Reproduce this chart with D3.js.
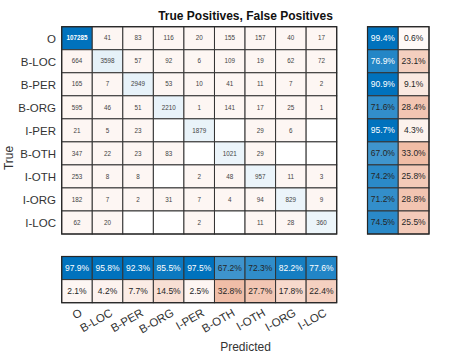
<!DOCTYPE html>
<html><head><meta charset="utf-8">
<script src="https://cdn.jsdelivr.net/npm/d3@7"></script>
<style>body{margin:0;background:#fff}svg{display:block}</style>
</head><body><svg id="c" width="474" height="355"></svg>
<script>
const classes = ["O","B-LOC","B-PER","B-ORG","I-PER","B-OTH","I-OTH","I-ORG","I-LOC"];
const rowO    = [107285, 41, 83, 116, 20, 155, 157, 40, 17];
const rowBLOC = [664, 3598, 57, 92, 6, 109, 19, 62, 72];
const rowBPER = [165, 7, 2949, 53, 10, 41, 11, 7, 2];
const rowBORG = [595, 46, 51, 2210, 1, 141, 17, 25, 1];
const rowIPER = [21, 5, 23, 0, 1879, 0, 29, 6, 0];
const rowBOTH = [347, 22, 23, 83, 0, 1021, 29, 0, 0];
const rowIOTH = [253, 8, 8, 0, 2, 48, 957, 11, 3];
const rowIORG = [182, 7, 2, 31, 7, 4, 94, 829, 9];
const rowILOC = [62, 20, 0, 0, 2, 0, 11, 28, 360];
const matrix = [rowO,rowBLOC,rowBPER,rowBORG,rowIPER,rowBOTH,rowIOTH,rowIORG,rowILOC];
const rowTrue  = [99.4, 76.9, 90.9, 71.6, 95.7, 67.0, 74.2, 71.2, 74.5];
const rowFalse = [0.6, 23.1, 9.1, 28.4, 4.3, 33.0, 25.8, 28.8, 25.5];
const colTrue  = [97.9, 95.8, 92.3, 85.5, 97.5, 67.2, 72.3, 82.2, 77.6];
const colFalse = [2.1, 4.2, 7.7, 14.5, 2.5, 32.8, 27.7, 17.8, 22.4];

const svg = d3.select("#c");
const FONT = "'Liberation Sans', Arial, sans-serif";
const blue = [0,114,189], red = [217,83,25];
function tint(c,a){a=Math.max(0,Math.min(1,a));return `rgb(${c.map(v=>Math.round(255-(255-v)*a)).join(",")})`;}

const gx0=61.7, gx1=336.7, gy0=26.7, gy1=234;
const x = d3.scaleBand().domain(classes).range([gx0,gx1]);
const y = d3.scaleBand().domain(classes).range([gy0,gy1]);
const rx = d3.scaleBand().domain(["t","f"]).range([367.5,429]);
const by = d3.scaleBand().domain(["t","f"]).range([256.5,302.7]);
const maxV = d3.max(matrix.flat());

const cells=[];
matrix.forEach((r,i)=>r.forEach((v,j)=>cells.push({i,j,v})));
const g = svg.append("g");
g.selectAll("rect.cell").data(cells).join("rect")
 .attr("x",d=>x(classes[d.j])).attr("y",d=>y(classes[d.i]))
 .attr("width",x.bandwidth()).attr("height",y.bandwidth())
 .attr("fill",d=>d.v===0?"#fff":tint(d.i===d.j?blue:red, (d.i===d.j?0.07:0.05)+0.93*d.v/maxV))
 .attr("stroke","#333").attr("stroke-width",1);
g.selectAll("text.cell").data(cells.filter(d=>d.v>0)).join("text")
 .attr("x",d=>x(classes[d.j])+x.bandwidth()/2).attr("y",d=>y(classes[d.i])+y.bandwidth()/2+2.2)
 .attr("text-anchor","middle").attr("font-family",FONT).attr("font-size",6.3)
 .attr("font-weight",d=>d.v/maxV>0.5?"bold":"normal")
 .attr("fill",d=>d.v/maxV>0.5?"#fff":"#444").text(d=>d.v);
g.append("rect").attr("x",gx0).attr("y",gy0).attr("width",gx1-gx0).attr("height",gy1-gy0)
 .attr("fill","none").attr("stroke","#262626").attr("stroke-width",1.2);

// row summary
const rs=[];
classes.forEach((c,i)=>{rs.push({c,k:"t",p:rowTrue[i]});rs.push({c,k:"f",p:rowFalse[i]});});
function alphaP(p){return 0.03+1.08*p/100;}
const gr=svg.append("g");
gr.selectAll("rect").data(rs).join("rect")
 .attr("x",d=>rx(d.k)).attr("y",d=>y(d.c)).attr("width",rx.bandwidth()).attr("height",y.bandwidth())
 .attr("fill",d=>tint(d.k==="t"?blue:red,alphaP(d.p))).attr("stroke","#333");
gr.selectAll("text").data(rs).join("text")
 .attr("x",d=>rx(d.k)+rx.bandwidth()/2).attr("y",d=>y(d.c)+y.bandwidth()/2+3)
 .attr("text-anchor","middle").attr("font-family",FONT).attr("font-size",8.5)
 .attr("fill",d=>(d.k==="t"&&d.p>=75)?"#fff":"#262626").text(d=>d.p.toFixed(1)+"%");
gr.append("rect").attr("x",367.5).attr("y",gy0).attr("width",61.5).attr("height",gy1-gy0)
 .attr("fill","none").attr("stroke","#262626").attr("stroke-width",1.2);

// column summary
const cs=[];
classes.forEach((c,i)=>{cs.push({c,k:"t",p:colTrue[i]});cs.push({c,k:"f",p:colFalse[i]});});
const gc=svg.append("g");
gc.selectAll("rect").data(cs).join("rect")
 .attr("x",d=>x(d.c)).attr("y",d=>by(d.k)).attr("width",x.bandwidth()).attr("height",by.bandwidth())
 .attr("fill",d=>tint(d.k==="t"?blue:red,alphaP(d.p))).attr("stroke","#333");
gc.selectAll("text").data(cs).join("text")
 .attr("x",d=>x(d.c)+x.bandwidth()/2).attr("y",d=>by(d.k)+by.bandwidth()/2+3)
 .attr("text-anchor","middle").attr("font-family",FONT).attr("font-size",8.5)
 .attr("fill",d=>(d.k==="t"&&d.p>=75)?"#fff":"#262626").text(d=>d.p.toFixed(1)+"%");
gc.append("rect").attr("x",gx0).attr("y",256.5).attr("width",gx1-gx0).attr("height",46.2)
 .attr("fill","none").attr("stroke","#262626").attr("stroke-width",1.2);

// y axis labels
svg.append("g").selectAll("text").data(classes).join("text")
 .attr("x",56).attr("y",d=>y(d)+y.bandwidth()/2+4.5)
 .attr("text-anchor","end").attr("font-family",FONT).attr("font-size",11.5).attr("fill","#333")
 .text(d=>d);
// x axis labels
svg.append("g").selectAll("text").data(classes).join("text")
 .attr("transform",d=>`translate(${x(d)+x.bandwidth()/2+6},${315}) rotate(-30)`)
 .attr("text-anchor","end").attr("font-family",FONT).attr("font-size",11.5).attr("fill","#333")
 .text(d=>d);

svg.append("text").attr("x",245.5).attr("y",20).attr("text-anchor","middle")
 .attr("font-family",FONT).attr("font-size",12).attr("font-weight","bold").attr("fill","#111")
 .text("True Positives, False Positives");
svg.append("text").attr("x",245.5).attr("y",351).attr("text-anchor","middle")
 .attr("font-family",FONT).attr("font-size",12).attr("fill","#333").text("Predicted");
svg.append("text").attr("transform","translate(13,158) rotate(-90)").attr("text-anchor","middle")
 .attr("font-family",FONT).attr("font-size",12).attr("fill","#333").text("True");
</script></body></html>
